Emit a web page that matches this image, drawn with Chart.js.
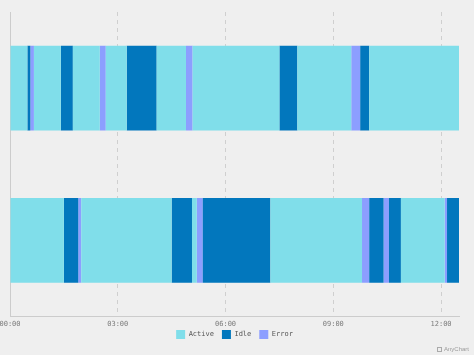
<!DOCTYPE html>
<html>
<head>
<meta charset="utf-8">
<script src="https://cdn.jsdelivr.net/npm/chart.js@4.4.1/dist/chart.umd.min.js"></script>
<style>
  html, body { margin: 0; padding: 0; background: #efefef; }
  #wrap { position: relative; width: 474px; height: 355px; background: #efefef; }
  #credit { position: absolute; right: 5px; bottom: 3px; font: 6px "Liberation Sans", Arial, sans-serif; color: #9a9a9a; display: flex; align-items: center; gap: 2px; }
  #credit span.icon { display: inline-block; width: 5px; height: 5px; border: 1px solid #aaa; box-sizing: border-box; }
</style>
</head>
<body>
<div id="wrap">
  <canvas id="c" width="474" height="355"></canvas>
  <div id="credit"><span class="icon"></span>AnyChart</div>
</div>
<script>
// ---- data ----
const categories = ['Row 1', 'Row 2'];
const states = ['Active', 'Idle', 'Error'];
const stateColors = ['#80deea', '#0277bd', '#8c9eff'];

const row1Bounds = ['00:00','00:29','00:34','00:40','01:25','01:45','02:30','02:40','03:15','04:05','04:54','05:05','07:30','08:00','09:30','09:45','10:00','12:30'];
const row1States = ['Active','Idle','Error','Active','Idle','Active','Error','Active','Idle','Active','Error','Active','Idle','Active','Error','Idle','Active'];

const row2Bounds = ['00:00','01:30','01:54','01:59','04:30','05:04','05:12','05:22','07:15','09:48','10:00','10:24','10:33','10:53','12:06','12:10','12:30'];
const row2States = ['Active','Idle','Error','Active','Idle','Active','Error','Idle','Active','Error','Idle','Error','Idle','Active','Error','Idle'];

const tickLabels = ['00:00', '03:00', '06:00', '09:00', '12:00'];
const axisStart = '00:00';
const axisEnd = '12:30';

// ---- build ----
function toMin(s) { const p = s.split(':'); return (+p[0]) * 60 + (+p[1]); }
function fmt(m) { const h = Math.floor(m / 60), mm = m % 60; return String(h).padStart(2, '0') + ':' + String(mm).padStart(2, '0'); }

const rows = [[row1Bounds, row1States], [row2Bounds, row2States]];
const datasets = states.map((st, si) => {
  const data = [];
  rows.forEach(([bounds, sts], ri) => {
    sts.forEach((s, k) => {
      if (s === st) data.push({ x: [toMin(bounds[k]), toMin(bounds[k + 1])], y: categories[ri] });
    });
  });
  return {
    label: st,
    data,
    backgroundColor: stateColors[si],
    borderWidth: 0,
    grouped: false,
    categoryPercentage: 1,
    barPercentage: 0.557
  };
});

// move the legend a little closer to the axis labels
const legendNudge = {
  id: 'legendNudge',
  afterLayout(chart) {
    const l = chart.legend;
    if (l) { l.top -= 6; l.bottom -= 6; }
  }
};

new Chart(document.getElementById('c'), {
  type: 'bar',
  data: { labels: categories, datasets },
  plugins: [legendNudge],
  options: {
    responsive: false,
    animation: false,
    indexAxis: 'y',
    layout: { padding: { left: 10, right: 15, top: 12, bottom: 0 } },
    scales: {
      x: {
        type: 'linear',
        min: toMin(axisStart),
        max: toMin(axisEnd),
        afterFit: (s) => { s.paddingLeft = 0; s.paddingRight = 0; s.height = 11.5; },
        afterBuildTicks: (s) => { s.ticks = tickLabels.map(t => ({ value: toMin(t) })); },
        ticks: {
          maxRotation: 0,
          autoSkip: false,
          padding: 3,
          color: '#7c7c7c',
          font: { family: '"DejaVu Sans Mono", monospace', size: 7 },
          callback: (v) => fmt(v)
        },
        grid: {
          display: true,
          drawTicks: false,
          color: (ctx) => ctx.tick && ctx.tick.value === 0 ? 'rgba(0,0,0,0)' : '#cfcfcf',
          lineWidth: 1
        },
        border: { display: true, color: '#cccccc', dash: [4, 4] }
      },
      y: {
        type: 'category',
        ticks: { display: false },
        grid: { display: false, drawTicks: false },
        border: { display: true, color: '#cccccc' }
      }
    },
    plugins: {
      legend: {
        display: true,
        position: 'bottom',
        labels: {
          boxWidth: 9,
          boxHeight: 9,
          padding: 8,
          color: '#555555',
          font: { family: '"DejaVu Sans Mono", monospace', size: 7 }
        }
      },
      tooltip: { enabled: false }
    }
  }
});
</script>
</body>
</html>
